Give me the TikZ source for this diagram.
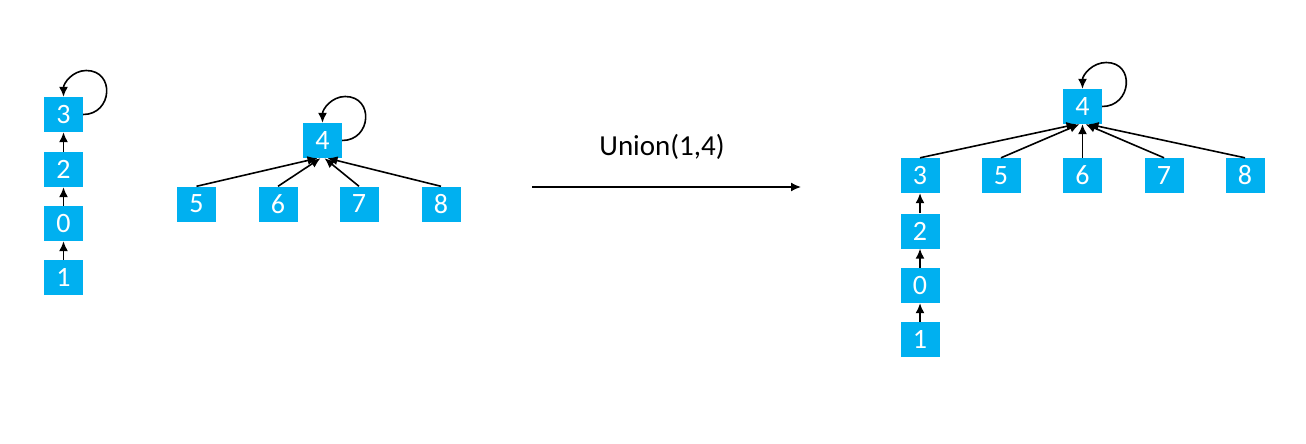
\documentclass[tikz,border=0pt]{standalone}
\usepackage{fontspec}
\setmainfont{Carlito}
\usetikzlibrary{arrows.meta,calc}
\definecolor{boxblue}{HTML}{00B0F0}
\tikzset{
  box/.style={draw=none,fill=boxblue,text=white,minimum width=39pt,minimum height=35pt,inner sep=0pt,font=\fontsize{28}{28}\selectfont},
  arr/.style={line width=1.6pt,-{Latex[length=10pt,width=9pt]}},
}
\begin{document}
\begin{tikzpicture}[x=1pt,y=-1pt]
\useasboundingbox (0,0) rectangle (1306,444);
% left chain
\node[box] (L3) at (63.5,114.5) {3};
\node[box] (L2) at (63.5,169.5) {2};
\node[box] (L0) at (63.5,223.5) {0};
\node[box] (L1) at (63.5,277.5) {1};
\draw[arr] (L1.north) -- (L0.south);
\draw[arr] (L0.north) -- (L2.south);
\draw[arr] (L2.north) -- (L3.south);
\coordinate (L3t) at ($(L3.east)+(3,-44)$);
\draw[arr] (L3.east) to[out=0,in=0,looseness=1.7] (L3t) to[out=180,in=90] (L3.north);
% middle tree
\node[box] (M4) at (322.5,140.5) {4};
\node[box] (M5) at (196.5,204) {5};
\node[box] (M6) at (278,204) {6};
\node[box] (M7) at (359,204) {7};
\node[box] (M8) at (441,204) {8};
\draw[arr] (M5.north) -- ([xshift=-5pt]M4.south);
\draw[arr] (M6.north) -- ([xshift=-2pt]M4.south);
\draw[arr] (M7.north) -- ([xshift=2pt]M4.south);
\draw[arr] (M8.north) -- ([xshift=5pt]M4.south);
\coordinate (M4t) at ($(M4.east)+(3,-44)$);
\draw[arr] (M4.east) to[out=0,in=0,looseness=1.7] (M4t) to[out=180,in=90] (M4.north);
% union arrow
\coordinate (ua) at (532,187);
\coordinate (ub) at (801,187);
\draw[arr] (ua) -- (ub);
\node[font=\fontsize{29}{29}\selectfont] (ul) at (662,147) {Union(1,4)};
% right tree
\node[box] (R4) at (1082.5,106.5) {4};
\node[box] (R3) at (920,175.5) {3};
\node[box] (R5) at (1001,175.5) {5};
\node[box] (R6) at (1082.5,175.5) {6};
\node[box] (R7) at (1164,175.5) {7};
\node[box] (R8) at (1245,175.5) {8};
\node[box] (R2) at (920,231) {2};
\node[box] (R0) at (920,285.5) {0};
\node[box] (R1) at (920,339.5) {1};
\draw[arr] (R3.north) -- ([xshift=-6pt]R4.south);
\draw[arr] (R5.north) -- ([xshift=-3pt]R4.south);
\draw[arr] (R6.north) -- (R4.south);
\draw[arr] (R7.north) -- ([xshift=3pt]R4.south);
\draw[arr] (R8.north) -- ([xshift=6pt]R4.south);
\draw[arr] (R1.north) -- (R0.south);
\draw[arr] (R0.north) -- (R2.south);
\draw[arr] (R2.north) -- (R3.south);
\coordinate (R4t) at ($(R4.east)+(4,-44)$);
\draw[arr] (R4.east) to[out=0,in=0,looseness=1.7] (R4t) to[out=180,in=90] (R4.north);
\end{tikzpicture}
\end{document}
